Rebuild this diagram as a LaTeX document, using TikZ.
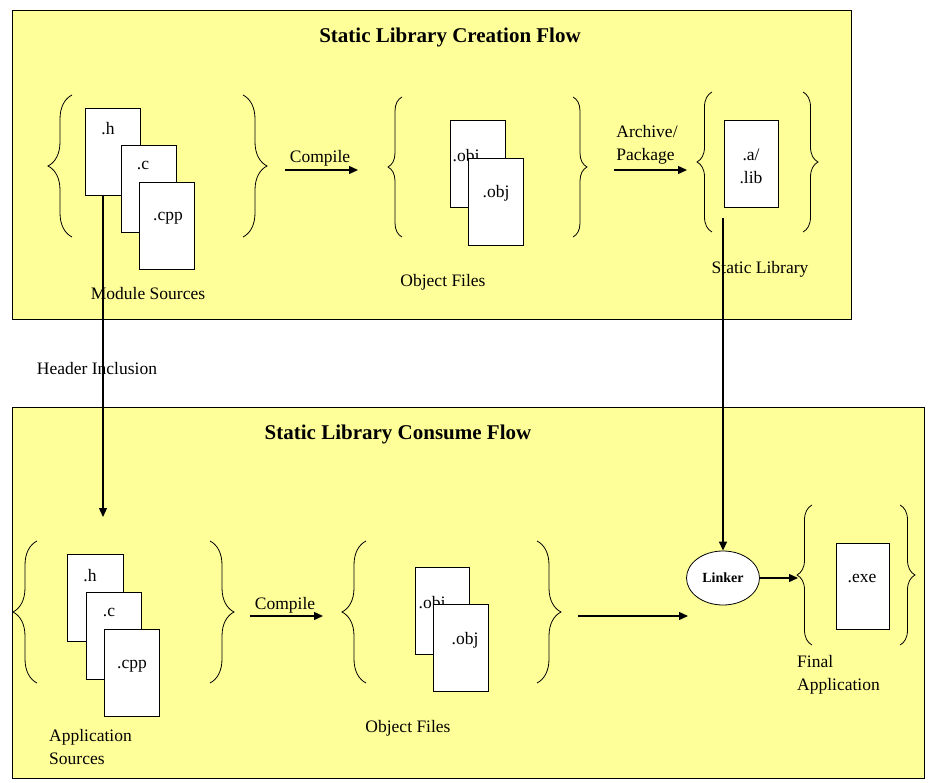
\documentclass[tikz,border=0pt]{standalone}
\usepackage{fontspec}
\setmainfont{Liberation Serif}
\usetikzlibrary{decorations.pathreplacing,arrows.meta,shapes.geometric}
\definecolor{pale}{RGB}{255,255,153}
\begin{document}
\begin{tikzpicture}[x=1pt,y=-1pt,
  panel/.style={draw=black,fill=pale,line width=0.8pt},
  file/.style={draw=black,fill=white,line width=0.8pt},
  lb/.style={font=\fontsize{17.5}{23}\selectfont,inner sep=1pt},
  ttl/.style={font=\bfseries\fontsize{21}{24}\selectfont},
  arr/.style={line width=1.3pt,-{Triangle[length=9pt,width=8pt]}},
  br/.style={line width=0.8pt,decorate,decoration={brace,amplitude=#1}}]
\useasboundingbox (0,0) rectangle (931,783);
\fill[white] (0,0) rectangle (931,783);
% panels
\draw[panel] (12,10) rectangle (851,319);
\draw[panel] (12,407) rectangle (924,778);
\node[ttl] (t1) at (450,37) {Static Library Creation Flow};
\node[ttl] (t2) at (398,434) {Static Library Consume Flow};
% top-left group
\draw[br=24pt] (72,237) -- (72,95);
\draw[br=24pt] (243,95) -- (243,237);
\node[file,minimum width=55pt,minimum height=87pt,anchor=north west] (h1) at (85,108) {};
\node[file,minimum width=55pt,minimum height=87pt,anchor=north west] (c1) at (121,145) {};
\node[file,minimum width=55pt,minimum height=87pt,anchor=north west] (p1) at (139,182) {};
\node[lb] (h1l) at (108,129) {.h};
\node[lb] (c1l) at (143,166) {.c};
\node[lb] (p1l) at (168,218) {.cpp};
\node[lb] (ms) at (148,294) {Module Sources};
\coordinate (ca1) at (285,170); \coordinate (cb1) at (358,170);
\draw[arr] (ca1) -- (cb1);
\node[lb] (cl1) at (320,158) {Compile};
% top middle
\draw[br=14pt] (402,237) -- (402,97);
\draw[br=14pt] (573,97) -- (573,237);
\node[file,minimum width=55pt,minimum height=87pt,anchor=north west] (o1) at (450,120) {};
\node[lb] (o1l) at (466,157) {.obj};
\node[file,minimum width=55pt,minimum height=87pt,anchor=north west] (o2) at (468,158) {};
\node[lb] (o2l) at (496,193) {.obj};
\node[lb] (of1) at (443,282) {Object Files};
\coordinate (aa) at (614,170); \coordinate (ab) at (687,170);
\draw[arr] (aa) -- (ab);
\node[lb,align=left] (al) at (647,145) {Archive/\\Package};
% static lib
\draw[br=15pt] (712,232) -- (712,92);
\draw[br=15pt] (803,92) -- (803,232);
\node[file,minimum width=54pt,minimum height=87pt,anchor=north west] (lib) at (724,120) {};
\node[lb,align=center] (libl) at (751,166) {.a/\\.lib};
\node[lb] (sl) at (760,269) {Static Library};
% header inclusion
\coordinate (hi) at (103,517);
\draw[arr] (103,195) -- (hi);
\node[lb] (hil) at (97,369) {Header Inclusion};
% linker
\node[draw,fill=white,ellipse,line width=0.8pt,minimum width=73pt,minimum height=54pt,font=\bfseries\fontsize{14}{16}\selectfont] (lk) at (723,578) {Linker};
\draw[arr] (723,218) -- (lk.north);
% bottom-left group
\draw[br=24pt] (37,683) -- (37,541);
\draw[br=24pt] (210,541) -- (210,683);
\node[file,minimum width=56pt,minimum height=87pt,anchor=north west] (h2) at (67,554) {};
\node[file,minimum width=55pt,minimum height=87pt,anchor=north west] (c2) at (86,592) {};
\node[file,minimum width=55pt,minimum height=87pt,anchor=north west] (p2) at (104,629) {};
\node[lb] (h2l) at (90,576) {.h};
\node[lb] (c2l) at (109,612) {.c};
\node[lb] (p2l) at (132,666) {.cpp};
\node[lb,align=left,anchor=north west] (as) at (48,728) {Application\\Sources};
\coordinate (ca2) at (250,616); \coordinate (cb2) at (323,616);
\draw[arr] (ca2) -- (cb2);
\node[lb] (cl2) at (285,605) {Compile};
% bottom middle
\draw[br=24pt] (366,683) -- (366,541);
\draw[br=24pt] (537,541) -- (537,683);
\node[file,minimum width=54pt,minimum height=87pt,anchor=north west] (o3) at (415,567) {};
\node[lb] (o3l) at (432,604) {.obj};
\node[file,minimum width=55pt,minimum height=87pt,anchor=north west] (o4) at (433,604) {};
\node[lb] (o4l) at (465,640) {.obj};
\node[lb] (of2) at (408,728) {Object Files};
\coordinate (oa) at (578,616); \coordinate (ob) at (688,616);
\draw[arr] (oa) -- (ob);
% final
\coordinate (fa) at (798,578);
\draw[arr] (lk.east) -- (fa);
\draw[br=15pt] (812,645) -- (812,505);
\draw[br=15pt] (900,505) -- (900,645);
\node[file,minimum width=53pt,minimum height=86pt,anchor=north west] (exe) at (836,543) {};
\node[lb] (exel) at (862,578) {.exe};
\node[lb,align=left,anchor=north west] (fal) at (796,654) {Final\\Application};
\end{tikzpicture}
\end{document}
